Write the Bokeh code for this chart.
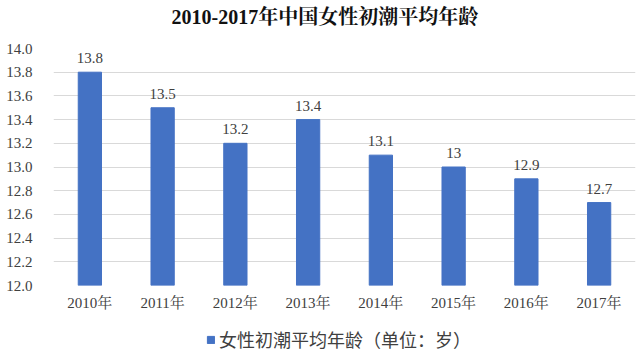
from bokeh.plotting import figure
from bokeh.layouts import column
from bokeh.models import (ColumnDataSource, LabelSet, Label, Legend, LegendItem, FactorRange, Range1d,
                          FixedTicker, CustomJSTickFormatter)
from bokeh.embed import file_html
from bokeh.resources import INLINE

years = ["2010年", "2011年", "2012年", "2013年", "2014年", "2015年", "2016年", "2017年"]
ages = [13.8, 13.5, 13.2, 13.4, 13.1, 13.0, 12.9, 12.7]
age_labels = ["13.8", "13.5", "13.2", "13.4", "13.1", "13", "12.9", "12.7"]
y_ticks = [12.0, 12.2, 12.4, 12.6, 12.8, 13.0, 13.2, 13.4, 13.6, 13.8, 14.0]
title_text = "2010-2017年中国女性初潮平均年龄"
series_name = "女性初潮平均年龄（单位：岁）"

serif = "Liberation Serif, Times New Roman, Noto Serif CJK SC, Noto Sans CJK SC"
cjk = "Noto Sans CJK SC"
bar_color = "#4472C4"

src = ColumnDataSource(dict(x=years, top=ages, lab=age_labels))

# title strip
t = figure(width=640, height=38, output_backend="svg", toolbar_location=None,
           min_border=0, x_range=Range1d(0, 1), y_range=Range1d(0, 1))
t.axis.visible = False
t.grid.visible = False
t.outline_line_color = None
tl = Label(x=118, y=22, x_units="screen", y_units="screen", text=title_text,
           text_font_size="20px", text_font_style="bold", text_color="#111111",
           text_baseline="middle", text_align="left")
tl.text_font = serif
t.add_layout(tl)

p = figure(width=640, height=280, x_range=FactorRange(*years), y_range=Range1d(12.0, 14.0),
           output_backend="svg", toolbar_location=None,
           min_border_left=53, min_border_right=5, min_border_top=10, min_border_bottom=33)
p.outline_line_color = None
p.background_fill_color = "white"

r = p.vbar(x="x", top="top", bottom=12.0, width=0.32, source=src, color=bar_color)

labels = LabelSet(x="x", y="top", text="lab", source=src, y_offset=9, text_align="center",
                  text_baseline="bottom", text_font_size="15px", text_color="#404040")
labels.text_font = serif
p.add_layout(labels)

p.yaxis.ticker = FixedTicker(ticks=y_ticks)
p.yaxis.formatter = CustomJSTickFormatter(code="return tick.toFixed(1);")
for ax in (p.xaxis, p.yaxis):
    ax.axis_line_color = None
    ax.major_tick_line_color = None
    ax.minor_tick_line_color = None
    ax.major_label_text_font = serif
    ax.major_label_text_font_size = "15px"
    ax.major_label_text_color = "#404040"
p.xaxis.major_label_standoff = 3
p.yaxis.major_label_standoff = 15

p.xgrid.grid_line_color = None
p.ygrid.grid_line_color = "#D9D9D9"
p.ygrid.ticker = FixedTicker(ticks=y_ticks)

# legend strip below the chart
q = figure(width=640, height=38, output_backend="svg", toolbar_location=None,
           min_border=0, x_range=FactorRange(*years), y_range=Range1d(12.0, 14.0))
q.axis.visible = False
q.grid.visible = False
q.outline_line_color = None
proxy = q.vbar(x="x", top="top", bottom=12.0, width=0.32, source=src, color=bar_color, visible=False)
legend = Legend(items=[LegendItem(label=series_name, renderers=[proxy])],
                orientation="horizontal", location=(153, 4))
legend.label_text_font = cjk
legend.label_text_font_size = "18px"
legend.label_text_color = "#404040"
legend.border_line_color = None
legend.background_fill_alpha = 0
legend.inactive_fill_alpha = 0
legend.glyph_width = 9
legend.glyph_height = 9
legend.label_standoff = 4
legend.padding = 2
legend.margin = 0
q.add_layout(legend)

layout = column(t, p, q, spacing=0)
open("out.html", "w").write(file_html(layout, INLINE))
